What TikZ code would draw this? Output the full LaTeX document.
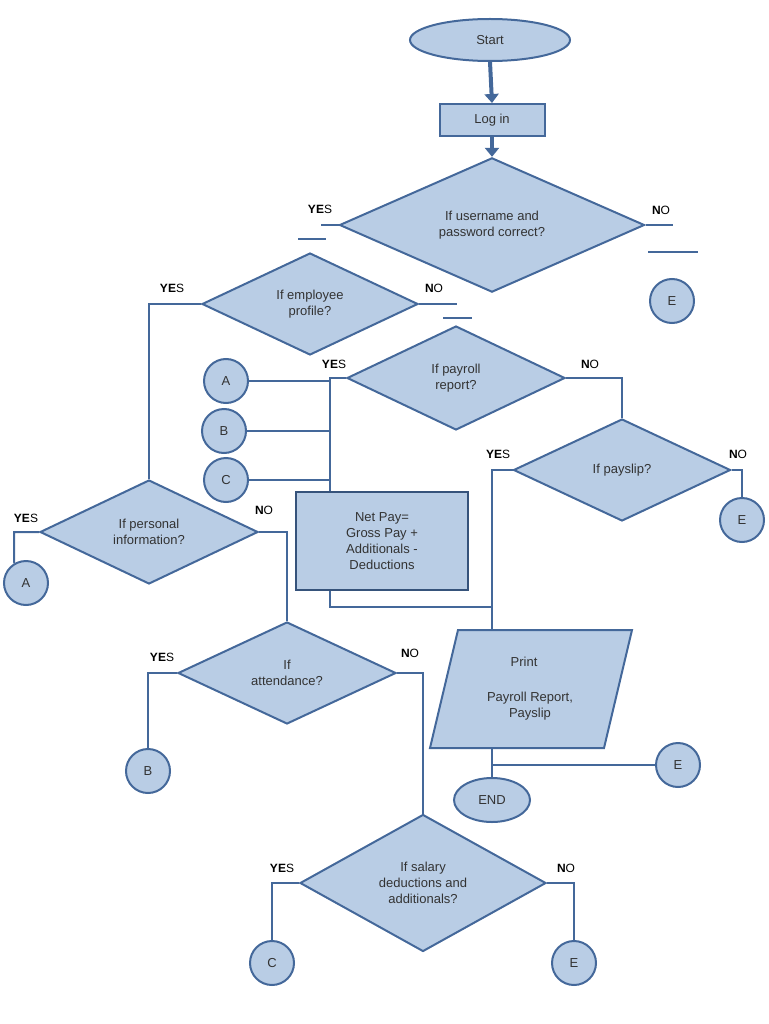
\documentclass[tikz,border=0pt]{standalone}
\usepackage{fontspec}
\setmainfont{Liberation Sans}
\usetikzlibrary{shapes.geometric,arrows.meta}
\definecolor{fillb}{HTML}{B9CDE5}
\definecolor{edgeb}{HTML}{44689A}
\begin{document}
\begin{tikzpicture}[x=1pt,y=-1pt,
  every node/.style={font=\fontsize{13}{16}\selectfont, text=black!80},
  base/.style={draw=edgeb, fill=fillb, line width=2pt, align=center, inner sep=0},
  dia/.style={base, diamond},
  circ/.style={base, circle, minimum size=44},
  lbl/.style={font=\fontsize{12}{14}\selectfont, text=black},
  con/.style={draw=edgeb, line width=2pt},
  big/.style={draw=edgeb, line width=4pt, -{Triangle[length=9pt,width=14pt]}}]
\useasboundingbox (0,0) rectangle (768,1024);
% nodes
\node[base, ellipse, minimum width=160, minimum height=42] (start) at (490,40) {Start};
\node[base, rectangle, minimum width=105, minimum height=32] (login) at (492,120) {Log in};
\node[dia, minimum width=305, minimum height=106] (d1) at (492,225) {If username and\\password correct?};
\node[circ] (e1) at (672,301) {E};
\node[dia, minimum width=216, minimum height=102] (d2) at (310,304) {If employee\\profile?};
\node[dia, minimum width=218, minimum height=104] (d3) at (456,378) {If payroll\\report?};
\node[circ] (ca1) at (226,381) {A};
\node[circ] (cb1) at (224,431) {B};
\node[circ] (cc1) at (226,480) {C};
\node[dia, minimum width=217, minimum height=102] (d4) at (622,470) {If payslip?};
\node[circ] (e2) at (742,520) {E};
\node[base, rectangle, minimum width=172, minimum height=98, line width=2.5pt, draw=edgeb!80!black] (net) at (382,541) {Net Pay=\\Gross Pay +\\Additionals -\\Deductions};
\node[dia, minimum width=218, minimum height=104] (d5) at (149,532) {If personal\\information?};
\node[circ] (ca2) at (26,583) {A};
\node[dia, minimum width=218, minimum height=102] (d6) at (287,673) {If\\attendance?};
\node[circ] (cb2) at (148,771) {B};
\node[dia, minimum width=246, minimum height=137] (d7) at (423,883) {If salary\\deductions and\\additionals?};
\node[circ] (cc2) at (272,963) {C};
\node[circ] (e3) at (574,963) {E};
\filldraw[draw=edgeb, fill=fillb, line width=2pt] (458,630) -- (632,630) -- (604,748) -- (430,748) -- cycle;
\node[minimum width=174, minimum height=118, inner sep=0] (pr) at (531,689) {};
\node at (524,662) {Print};
\node[align=center] at (530,706) {Payroll Report,\\Payslip};
\node[base, ellipse, minimum width=76, minimum height=44] (end) at (492,800) {END};
\node[circ] (e4) at (678,765) {E};
% labels
\node[lbl] at (320,209) {\textbf{YE}S};
\node[lbl] at (661,210) {\textbf{N}O};
\node[lbl] at (172,288) {\textbf{YE}S};
\node[lbl] at (434,288) {\textbf{N}O};
\node[lbl] at (334,364) {\textbf{YE}S};
\node[lbl] at (590,364) {\textbf{N}O};
\node[lbl] at (498,454) {\textbf{YE}S};
\node[lbl] at (738,454) {\textbf{N}O};
\node[lbl] at (26,518) {\textbf{YE}S};
\node[lbl] at (264,510) {\textbf{N}O};
\node[lbl] at (162,657) {\textbf{YE}S};
\node[lbl] at (410,653) {\textbf{N}O};
\node[lbl] at (282,868) {\textbf{YE}S};
\node[lbl] at (566,868) {\textbf{N}O};
% connectors
\draw[big] (start.south) -- (login.north);
\draw[big] (login.south) -- (d1.north);
\draw[con] (d1.west) -- ++(-18,0);
\draw[con] (298,239) -- (326,239);
\draw[con] (d1.east) -- ++(27,0);
\draw[con] (648,252) -- (698,252);
\draw[con] (d2.west) -| (d5.north);
\draw[con] (d2.east) -- ++(38,0);
\draw[con] (443,318) -- (472,318);
\coordinate (j) at (330,378);
\draw[con] (d3.west) -- (j) -- (j |- net.north);
\draw[con] (ca1.east) -- (j |- ca1.east);
\draw[con] (cb1.east) -- (j |- cb1.east);
\draw[con] (cc1.east) -- (j |- cc1.east);
\draw[con] (d3.east) -| (d4.north);
\coordinate (jp) at (492,470);
\draw[con] (d4.west) -- (jp) -- (jp |- pr.north);
\draw[con] (d4.east) -| (e2.north);
\draw[con] (net.south -| j) -- (330,607) -- (jp |- 0,607);
\draw[con] (d5.west) -| (14,562) -- (ca2);
\draw[con] (d5.east) -| (d6.north);
\draw[con] (d6.west) -| (cb2.north);
\draw[con] (d6.east) -| (d7.north);
\draw[con] (d7.west) -| (cc2.north);
\draw[con] (d7.east) -| (e3.north);
\draw[con] (pr.south -| jp) -- (end.north);
\draw[con] (492,765) -- (e4.west);
\end{tikzpicture}
\end{document}
